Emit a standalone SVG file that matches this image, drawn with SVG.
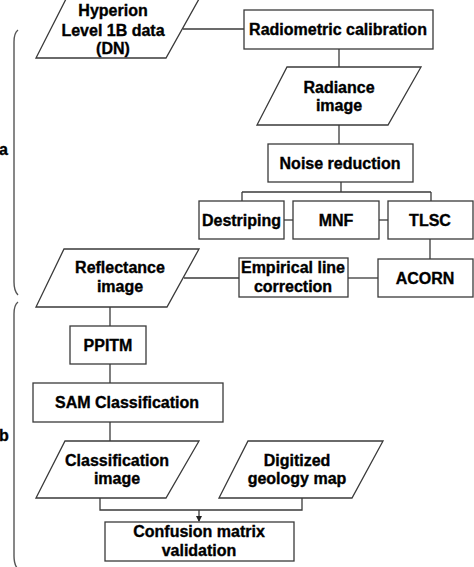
<svg xmlns="http://www.w3.org/2000/svg" width="474" height="567" viewBox="0 0 474 567">
<defs>
<style>
.n{fill:#fff;stroke:#3a3a3a;stroke-width:1.3}
.c{fill:none;stroke:#3a3a3a;stroke-width:1.3}
.br{fill:none;stroke:#555;stroke-width:1.4}
text{font-family:"Liberation Sans",Arial,sans-serif;font-weight:bold;font-size:16px;fill:#000;stroke:#000;stroke-width:0.35;text-anchor:middle}
.lab{text-anchor:start;font-size:16px}
</style>
<marker id="ah" markerWidth="6" markerHeight="6" refX="5" refY="3" orient="auto" markerUnits="userSpaceOnUse">
<path d="M0,0 L6,3 L0,6 Z" fill="#222"/>
</marker>
</defs>
<rect width="474" height="567" fill="#fff"/>
<g id="connectors">
<line class="c" x1="183" y1="29" x2="244" y2="29"/>
<line class="c" x1="339" y1="49" x2="339" y2="67"/>
<line class="c" x1="339" y1="125" x2="339" y2="144"/>
<line class="c" x1="341" y1="182" x2="341" y2="192"/>
<line class="c" x1="242" y1="192" x2="431" y2="192"/>
<line class="c" x1="242" y1="192" x2="242" y2="201"/>
<line class="c" x1="431" y1="192" x2="431" y2="201"/>
<line class="c" x1="284" y1="220" x2="293" y2="220"/>
<line class="c" x1="379" y1="220" x2="388" y2="220"/>
<line class="c" x1="430" y1="239" x2="430" y2="259"/>
<line class="c" x1="348" y1="278" x2="378" y2="278"/>
<line class="c" x1="184" y1="278" x2="239" y2="278"/>
<line class="c" x1="110" y1="307" x2="110" y2="326"/>
<line class="c" x1="110" y1="364" x2="110" y2="383"/>
<line class="c" x1="110" y1="422" x2="110" y2="441"/>
<polyline class="c" points="100,498 100,510 302,510 302,498"/>
<line class="c" x1="199" y1="510" x2="199" y2="521" marker-end="url(#ah)"/>
</g>
<g id="bracket-a">
<path class="br" d="M18,30 Q14,33 14,42 L14,282 Q14,291 18,295"/>
<text class="lab" x="-1" y="155">a</text>
</g>
<g id="bracket-b">
<path class="br" d="M18,302 Q14,305 14,314 L14,556 Q14,565 18,569"/>
<text class="lab" x="-1" y="441">b</text>
</g>
<g id="hyperion">
<polygon class="n" points="66,-1 199,-1 166,58 36,58"/>
<text x="113" y="16">Hyperion</text>
<text x="113" y="36">Level 1B data</text>
<text x="113" y="54">(DN)</text>
</g>
<g id="radiometric">
<rect class="n" x="244" y="10" width="189" height="39"/>
<text x="338" y="35">Radiometric calibration</text>
</g>
<g id="radiance">
<polygon class="n" points="287,67 421,67 388,125 257,125"/>
<text x="339" y="93">Radiance</text>
<text x="339" y="111">image</text>
</g>
<g id="noise">
<rect class="n" x="268" y="144" width="145" height="38"/>
<text x="340" y="169">Noise reduction</text>
</g>
<g id="destriping">
<rect class="n" x="199" y="201" width="85" height="38"/>
<text x="241.5" y="226">Destriping</text>
</g>
<g id="mnf">
<rect class="n" x="293" y="201" width="86" height="38"/>
<text x="336" y="226">MNF</text>
</g>
<g id="tlsc">
<rect class="n" x="388" y="201" width="85" height="38"/>
<text x="430" y="226">TLSC</text>
</g>
<g id="acorn">
<rect class="n" x="378" y="259" width="95" height="38"/>
<text x="425" y="284">ACORN</text>
</g>
<g id="empirical">
<rect class="n" x="239" y="258" width="109" height="39"/>
<text x="293" y="273">Empirical line</text>
<text x="293" y="292">correction</text>
</g>
<g id="reflectance">
<polygon class="n" points="64,249 199,249 167,307 36,307"/>
<text x="120" y="273">Reflectance</text>
<text x="120" y="292">image</text>
</g>
<g id="ppitm">
<rect class="n" x="70" y="326" width="76" height="38"/>
<text x="108" y="351">PPITM</text>
</g>
<g id="sam">
<rect class="n" x="33" y="383" width="190" height="39"/>
<text x="127" y="408">SAM Classification</text>
</g>
<g id="classification">
<polygon class="n" points="65,441 199,441 166,498 36,498"/>
<text x="117" y="466">Classification</text>
<text x="117" y="484">image</text>
</g>
<g id="geology">
<polygon class="n" points="248,441 383,441 352,498 219,498"/>
<text x="297" y="466">Digitized</text>
<text x="297" y="484">geology map</text>
</g>
<g id="confusion">
<rect class="n" x="105" y="522" width="189" height="39"/>
<text x="199" y="537">Confusion matrix</text>
<text x="199" y="556">validation</text>
</g>
</svg>
